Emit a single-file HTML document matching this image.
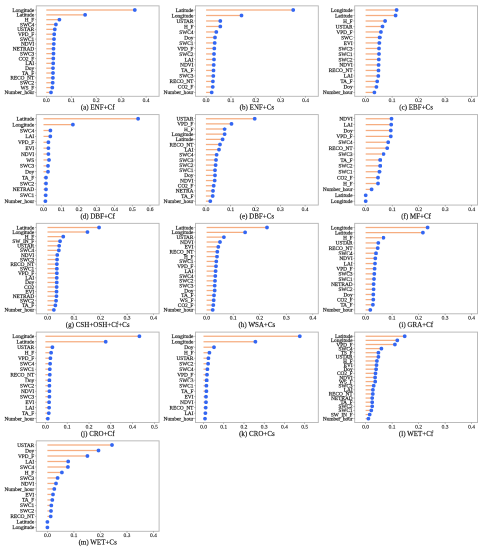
<!DOCTYPE html>
<html><head><meta charset="utf-8"><title>Feature importance lollipop charts</title>
<style>
html,body{margin:0;padding:0;background:#fff;}
body{width:483px;height:550px;overflow:hidden;}
svg{display:block;}
.wrap{width:483px;height:550px;overflow:hidden;position:relative;}
.ss{width:966px;height:1100px;transform:scale(0.5);transform-origin:0 0;will-change:transform;}
.s{stroke:#f6ad80;stroke-width:1.25;}
.d{fill:#3366f2;}
.fr{fill:none;stroke:#b4b4b4;stroke-width:0.9;}
.tk{stroke:#888;stroke-width:0.6;}
text{font-family:"Liberation Serif","Times New Roman",serif;fill:#222;stroke:#222;stroke-width:0.2px;}
.lb{font-size:5.3px;text-anchor:end;}
.tl{font-size:5.5px;text-anchor:middle;stroke-width:0.14px;}
.cp{font-size:7.0px;text-anchor:middle;fill:#111;stroke:#111;stroke-width:0.16px;}
</style></head><body>
<div class="wrap"><div class="ss"><svg width="966" height="1100" viewBox="0 0 483 550">
<rect width="483" height="550" fill="#fff"/>
<g>
<line x1="46.3" y1="9.97" x2="134.8" y2="9.97" class="s"/>
<line x1="46.3" y1="14.82" x2="85.1" y2="14.82" class="s"/>
<line x1="46.3" y1="19.67" x2="59.4" y2="19.67" class="s"/>
<line x1="46.3" y1="24.52" x2="55.9" y2="24.52" class="s"/>
<line x1="46.3" y1="29.37" x2="54.8" y2="29.37" class="s"/>
<line x1="46.3" y1="34.22" x2="54.2" y2="34.22" class="s"/>
<line x1="46.3" y1="39.07" x2="54" y2="39.07" class="s"/>
<line x1="46.3" y1="43.92" x2="53.8" y2="43.92" class="s"/>
<line x1="46.3" y1="48.77" x2="53.5" y2="48.77" class="s"/>
<line x1="46.3" y1="53.63" x2="53.5" y2="53.63" class="s"/>
<line x1="46.3" y1="58.48" x2="53.3" y2="58.48" class="s"/>
<line x1="46.3" y1="63.33" x2="53.2" y2="63.33" class="s"/>
<line x1="46.3" y1="68.18" x2="53" y2="68.18" class="s"/>
<line x1="46.3" y1="73.03" x2="53" y2="73.03" class="s"/>
<line x1="46.3" y1="77.88" x2="52.9" y2="77.88" class="s"/>
<line x1="46.3" y1="82.73" x2="52.7" y2="82.73" class="s"/>
<line x1="46.3" y1="87.58" x2="52.3" y2="87.58" class="s"/>
<line x1="46.3" y1="92.43" x2="51" y2="92.43" class="s"/>
<circle cx="134.8" cy="9.97" r="1.85" class="d"/>
<circle cx="85.1" cy="14.82" r="1.85" class="d"/>
<circle cx="59.4" cy="19.67" r="1.85" class="d"/>
<circle cx="55.9" cy="24.52" r="1.85" class="d"/>
<circle cx="54.8" cy="29.37" r="1.85" class="d"/>
<circle cx="54.2" cy="34.22" r="1.85" class="d"/>
<circle cx="54" cy="39.07" r="1.85" class="d"/>
<circle cx="53.8" cy="43.92" r="1.85" class="d"/>
<circle cx="53.5" cy="48.77" r="1.85" class="d"/>
<circle cx="53.5" cy="53.63" r="1.85" class="d"/>
<circle cx="53.3" cy="58.48" r="1.85" class="d"/>
<circle cx="53.2" cy="63.33" r="1.85" class="d"/>
<circle cx="53" cy="68.18" r="1.85" class="d"/>
<circle cx="53" cy="73.03" r="1.85" class="d"/>
<circle cx="52.9" cy="77.88" r="1.85" class="d"/>
<circle cx="52.7" cy="82.73" r="1.85" class="d"/>
<circle cx="52.3" cy="87.58" r="1.85" class="d"/>
<circle cx="51" cy="92.43" r="1.85" class="d"/>
<rect x="36.3" y="5.85" width="122.8" height="90.45" class="fr"/>
<line x1="35" y1="9.97" x2="36.3" y2="9.97" class="tk"/>
<text x="34.2" y="11.77" class="lb">Longitude</text>
<line x1="35" y1="14.82" x2="36.3" y2="14.82" class="tk"/>
<text x="34.2" y="16.62" class="lb">Latitude</text>
<line x1="35" y1="19.67" x2="36.3" y2="19.67" class="tk"/>
<text x="34.2" y="21.47" class="lb">H_F</text>
<line x1="35" y1="24.52" x2="36.3" y2="24.52" class="tk"/>
<text x="34.2" y="26.32" class="lb">SWC4</text>
<line x1="35" y1="29.37" x2="36.3" y2="29.37" class="tk"/>
<text x="34.2" y="31.17" class="lb">USTAR</text>
<line x1="35" y1="34.22" x2="36.3" y2="34.22" class="tk"/>
<text x="34.2" y="36.02" class="lb">VPD_F</text>
<line x1="35" y1="39.07" x2="36.3" y2="39.07" class="tk"/>
<text x="34.2" y="40.87" class="lb">SWC1</text>
<line x1="35" y1="43.92" x2="36.3" y2="43.92" class="tk"/>
<text x="34.2" y="45.72" class="lb">NDVI</text>
<line x1="35" y1="48.77" x2="36.3" y2="48.77" class="tk"/>
<text x="34.2" y="50.57" class="lb">NETRAD</text>
<line x1="35" y1="53.63" x2="36.3" y2="53.63" class="tk"/>
<text x="34.2" y="55.43" class="lb">SWC3</text>
<line x1="35" y1="58.48" x2="36.3" y2="58.48" class="tk"/>
<text x="34.2" y="60.28" class="lb">CO2_F</text>
<line x1="35" y1="63.33" x2="36.3" y2="63.33" class="tk"/>
<text x="34.2" y="65.13" class="lb">LAI</text>
<line x1="35" y1="68.18" x2="36.3" y2="68.18" class="tk"/>
<text x="34.2" y="69.98" class="lb">Doy</text>
<line x1="35" y1="73.03" x2="36.3" y2="73.03" class="tk"/>
<text x="34.2" y="74.83" class="lb">TA_F</text>
<line x1="35" y1="77.88" x2="36.3" y2="77.88" class="tk"/>
<text x="34.2" y="79.68" class="lb">RECO_NT</text>
<line x1="35" y1="82.73" x2="36.3" y2="82.73" class="tk"/>
<text x="34.2" y="84.53" class="lb">SWC2</text>
<line x1="35" y1="87.58" x2="36.3" y2="87.58" class="tk"/>
<text x="34.2" y="89.38" class="lb">WS_F</text>
<line x1="35" y1="92.43" x2="36.3" y2="92.43" class="tk"/>
<text x="34.2" y="94.23" class="lb">Number_hour</text>
<line x1="46.3" y1="96.3" x2="46.3" y2="97.6" class="tk"/>
<text x="46.3" y="102.1" class="tl">0.0</text>
<line x1="71.25" y1="96.3" x2="71.25" y2="97.6" class="tk"/>
<text x="71.25" y="102.1" class="tl">0.1</text>
<line x1="96.2" y1="96.3" x2="96.2" y2="97.6" class="tk"/>
<text x="96.2" y="102.1" class="tl">0.2</text>
<line x1="121.15" y1="96.3" x2="121.15" y2="97.6" class="tk"/>
<text x="121.15" y="102.1" class="tl">0.3</text>
<line x1="146.1" y1="96.3" x2="146.1" y2="97.6" class="tk"/>
<text x="146.1" y="102.1" class="tl">0.4</text>
<text x="97.7" y="109.5" class="cp">(a) ENF+Cf</text>
</g>
<g>
<line x1="206.1" y1="9.97" x2="293.2" y2="9.97" class="s"/>
<line x1="206.1" y1="15.47" x2="241.5" y2="15.47" class="s"/>
<line x1="206.1" y1="20.97" x2="220.3" y2="20.97" class="s"/>
<line x1="206.1" y1="26.46" x2="220.3" y2="26.46" class="s"/>
<line x1="206.1" y1="31.96" x2="216.3" y2="31.96" class="s"/>
<line x1="206.1" y1="37.46" x2="215" y2="37.46" class="s"/>
<line x1="206.1" y1="42.95" x2="214.7" y2="42.95" class="s"/>
<line x1="206.1" y1="48.45" x2="214.3" y2="48.45" class="s"/>
<line x1="206.1" y1="53.95" x2="214" y2="53.95" class="s"/>
<line x1="206.1" y1="59.45" x2="214" y2="59.45" class="s"/>
<line x1="206.1" y1="64.94" x2="213.7" y2="64.94" class="s"/>
<line x1="206.1" y1="70.44" x2="213.5" y2="70.44" class="s"/>
<line x1="206.1" y1="75.94" x2="213.3" y2="75.94" class="s"/>
<line x1="206.1" y1="81.43" x2="212.9" y2="81.43" class="s"/>
<line x1="206.1" y1="86.93" x2="212.75" y2="86.93" class="s"/>
<line x1="206.1" y1="92.43" x2="211.7" y2="92.43" class="s"/>
<circle cx="293.2" cy="9.97" r="1.85" class="d"/>
<circle cx="241.5" cy="15.47" r="1.85" class="d"/>
<circle cx="220.3" cy="20.97" r="1.85" class="d"/>
<circle cx="220.3" cy="26.46" r="1.85" class="d"/>
<circle cx="216.3" cy="31.96" r="1.85" class="d"/>
<circle cx="215" cy="37.46" r="1.85" class="d"/>
<circle cx="214.7" cy="42.95" r="1.85" class="d"/>
<circle cx="214.3" cy="48.45" r="1.85" class="d"/>
<circle cx="214" cy="53.95" r="1.85" class="d"/>
<circle cx="214" cy="59.45" r="1.85" class="d"/>
<circle cx="213.7" cy="64.94" r="1.85" class="d"/>
<circle cx="213.5" cy="70.44" r="1.85" class="d"/>
<circle cx="213.3" cy="75.94" r="1.85" class="d"/>
<circle cx="212.9" cy="81.43" r="1.85" class="d"/>
<circle cx="212.75" cy="86.93" r="1.85" class="d"/>
<circle cx="211.7" cy="92.43" r="1.85" class="d"/>
<rect x="195.5" y="5.85" width="122.8" height="90.45" class="fr"/>
<line x1="194.2" y1="9.97" x2="195.5" y2="9.97" class="tk"/>
<text x="193.4" y="11.77" class="lb">Latitude</text>
<line x1="194.2" y1="15.47" x2="195.5" y2="15.47" class="tk"/>
<text x="193.4" y="17.27" class="lb">Longitude</text>
<line x1="194.2" y1="20.97" x2="195.5" y2="20.97" class="tk"/>
<text x="193.4" y="22.77" class="lb">USTAR</text>
<line x1="194.2" y1="26.46" x2="195.5" y2="26.46" class="tk"/>
<text x="193.4" y="28.26" class="lb">H_F</text>
<line x1="194.2" y1="31.96" x2="195.5" y2="31.96" class="tk"/>
<text x="193.4" y="33.76" class="lb">SWC4</text>
<line x1="194.2" y1="37.46" x2="195.5" y2="37.46" class="tk"/>
<text x="193.4" y="39.26" class="lb">Doy</text>
<line x1="194.2" y1="42.95" x2="195.5" y2="42.95" class="tk"/>
<text x="193.4" y="44.75" class="lb">SWC1</text>
<line x1="194.2" y1="48.45" x2="195.5" y2="48.45" class="tk"/>
<text x="193.4" y="50.25" class="lb">VPD_F</text>
<line x1="194.2" y1="53.95" x2="195.5" y2="53.95" class="tk"/>
<text x="193.4" y="55.75" class="lb">SWC2</text>
<line x1="194.2" y1="59.45" x2="195.5" y2="59.45" class="tk"/>
<text x="193.4" y="61.25" class="lb">LAI</text>
<line x1="194.2" y1="64.94" x2="195.5" y2="64.94" class="tk"/>
<text x="193.4" y="66.74" class="lb">NDVI</text>
<line x1="194.2" y1="70.44" x2="195.5" y2="70.44" class="tk"/>
<text x="193.4" y="72.24" class="lb">TA_F</text>
<line x1="194.2" y1="75.94" x2="195.5" y2="75.94" class="tk"/>
<text x="193.4" y="77.74" class="lb">SWC3</text>
<line x1="194.2" y1="81.43" x2="195.5" y2="81.43" class="tk"/>
<text x="193.4" y="83.23" class="lb">RECO_NT</text>
<line x1="194.2" y1="86.93" x2="195.5" y2="86.93" class="tk"/>
<text x="193.4" y="88.73" class="lb">CO2_F</text>
<line x1="194.2" y1="92.43" x2="195.5" y2="92.43" class="tk"/>
<text x="193.4" y="94.23" class="lb">Number_hour</text>
<line x1="206.1" y1="96.3" x2="206.1" y2="97.6" class="tk"/>
<text x="206.1" y="102.1" class="tl">0.0</text>
<line x1="230.95" y1="96.3" x2="230.95" y2="97.6" class="tk"/>
<text x="230.95" y="102.1" class="tl">0.1</text>
<line x1="255.8" y1="96.3" x2="255.8" y2="97.6" class="tk"/>
<text x="255.8" y="102.1" class="tl">0.2</text>
<line x1="280.65" y1="96.3" x2="280.65" y2="97.6" class="tk"/>
<text x="280.65" y="102.1" class="tl">0.3</text>
<line x1="305.5" y1="96.3" x2="305.5" y2="97.6" class="tk"/>
<text x="305.5" y="102.1" class="tl">0.4</text>
<text x="256.9" y="109.5" class="cp">(b) ENF+Cs</text>
</g>
<g>
<line x1="365.6" y1="9.97" x2="396.6" y2="9.97" class="s"/>
<line x1="365.6" y1="15.47" x2="395.6" y2="15.47" class="s"/>
<line x1="365.6" y1="20.97" x2="385.1" y2="20.97" class="s"/>
<line x1="365.6" y1="26.46" x2="382.5" y2="26.46" class="s"/>
<line x1="365.6" y1="31.96" x2="380.9" y2="31.96" class="s"/>
<line x1="365.6" y1="37.46" x2="379.6" y2="37.46" class="s"/>
<line x1="365.6" y1="42.95" x2="379.3" y2="42.95" class="s"/>
<line x1="365.6" y1="48.45" x2="379" y2="48.45" class="s"/>
<line x1="365.6" y1="53.95" x2="379" y2="53.95" class="s"/>
<line x1="365.6" y1="59.45" x2="378.8" y2="59.45" class="s"/>
<line x1="365.6" y1="64.94" x2="378.6" y2="64.94" class="s"/>
<line x1="365.6" y1="70.44" x2="378.5" y2="70.44" class="s"/>
<line x1="365.6" y1="75.94" x2="378.3" y2="75.94" class="s"/>
<line x1="365.6" y1="81.43" x2="377.2" y2="81.43" class="s"/>
<line x1="365.6" y1="86.93" x2="376.4" y2="86.93" class="s"/>
<line x1="365.6" y1="92.43" x2="374.4" y2="92.43" class="s"/>
<circle cx="396.6" cy="9.97" r="1.85" class="d"/>
<circle cx="395.6" cy="15.47" r="1.85" class="d"/>
<circle cx="385.1" cy="20.97" r="1.85" class="d"/>
<circle cx="382.5" cy="26.46" r="1.85" class="d"/>
<circle cx="380.9" cy="31.96" r="1.85" class="d"/>
<circle cx="379.6" cy="37.46" r="1.85" class="d"/>
<circle cx="379.3" cy="42.95" r="1.85" class="d"/>
<circle cx="379" cy="48.45" r="1.85" class="d"/>
<circle cx="379" cy="53.95" r="1.85" class="d"/>
<circle cx="378.8" cy="59.45" r="1.85" class="d"/>
<circle cx="378.6" cy="64.94" r="1.85" class="d"/>
<circle cx="378.5" cy="70.44" r="1.85" class="d"/>
<circle cx="378.3" cy="75.94" r="1.85" class="d"/>
<circle cx="377.2" cy="81.43" r="1.85" class="d"/>
<circle cx="376.4" cy="86.93" r="1.85" class="d"/>
<circle cx="374.4" cy="92.43" r="1.85" class="d"/>
<rect x="354.7" y="5.85" width="122.8" height="90.45" class="fr"/>
<line x1="353.4" y1="9.97" x2="354.7" y2="9.97" class="tk"/>
<text x="352.6" y="11.77" class="lb">Longitude</text>
<line x1="353.4" y1="15.47" x2="354.7" y2="15.47" class="tk"/>
<text x="352.6" y="17.27" class="lb">Latitude</text>
<line x1="353.4" y1="20.97" x2="354.7" y2="20.97" class="tk"/>
<text x="352.6" y="22.77" class="lb">H_F</text>
<line x1="353.4" y1="26.46" x2="354.7" y2="26.46" class="tk"/>
<text x="352.6" y="28.26" class="lb">USTAR</text>
<line x1="353.4" y1="31.96" x2="354.7" y2="31.96" class="tk"/>
<text x="352.6" y="33.76" class="lb">VPD_F</text>
<line x1="353.4" y1="37.46" x2="354.7" y2="37.46" class="tk"/>
<text x="352.6" y="39.26" class="lb">SWC</text>
<line x1="353.4" y1="42.95" x2="354.7" y2="42.95" class="tk"/>
<text x="352.6" y="44.75" class="lb">EVI</text>
<line x1="353.4" y1="48.45" x2="354.7" y2="48.45" class="tk"/>
<text x="352.6" y="50.25" class="lb">SWC3</text>
<line x1="353.4" y1="53.95" x2="354.7" y2="53.95" class="tk"/>
<text x="352.6" y="55.75" class="lb">SWC1</text>
<line x1="353.4" y1="59.45" x2="354.7" y2="59.45" class="tk"/>
<text x="352.6" y="61.25" class="lb">SWC2</text>
<line x1="353.4" y1="64.94" x2="354.7" y2="64.94" class="tk"/>
<text x="352.6" y="66.74" class="lb">NDVI</text>
<line x1="353.4" y1="70.44" x2="354.7" y2="70.44" class="tk"/>
<text x="352.6" y="72.24" class="lb">RECO_NT</text>
<line x1="353.4" y1="75.94" x2="354.7" y2="75.94" class="tk"/>
<text x="352.6" y="77.74" class="lb">LAI</text>
<line x1="353.4" y1="81.43" x2="354.7" y2="81.43" class="tk"/>
<text x="352.6" y="83.23" class="lb">TA_F</text>
<line x1="353.4" y1="86.93" x2="354.7" y2="86.93" class="tk"/>
<text x="352.6" y="88.73" class="lb">Doy</text>
<line x1="353.4" y1="92.43" x2="354.7" y2="92.43" class="tk"/>
<text x="352.6" y="94.23" class="lb">Number_hour</text>
<line x1="365.6" y1="96.3" x2="365.6" y2="97.6" class="tk"/>
<text x="365.6" y="102.1" class="tl">0.0</text>
<line x1="392.1" y1="96.3" x2="392.1" y2="97.6" class="tk"/>
<text x="392.1" y="102.1" class="tl">0.1</text>
<line x1="418.6" y1="96.3" x2="418.6" y2="97.6" class="tk"/>
<text x="418.6" y="102.1" class="tl">0.2</text>
<line x1="445.1" y1="96.3" x2="445.1" y2="97.6" class="tk"/>
<text x="445.1" y="102.1" class="tl">0.3</text>
<line x1="471.6" y1="96.3" x2="471.6" y2="97.6" class="tk"/>
<text x="471.6" y="102.1" class="tl">0.4</text>
<text x="416.1" y="109.5" class="cp">(c) EBF+Cs</text>
</g>
<g>
<line x1="43.5" y1="118.72" x2="138.1" y2="118.72" class="s"/>
<line x1="43.5" y1="124.61" x2="72.9" y2="124.61" class="s"/>
<line x1="43.5" y1="130.5" x2="50.4" y2="130.5" class="s"/>
<line x1="43.5" y1="136.39" x2="50.3" y2="136.39" class="s"/>
<line x1="43.5" y1="142.28" x2="48.4" y2="142.28" class="s"/>
<line x1="43.5" y1="148.17" x2="48.4" y2="148.17" class="s"/>
<line x1="43.5" y1="154.06" x2="48.4" y2="154.06" class="s"/>
<line x1="43.5" y1="159.95" x2="49" y2="159.95" class="s"/>
<line x1="43.5" y1="165.84" x2="48" y2="165.84" class="s"/>
<line x1="43.5" y1="171.73" x2="48" y2="171.73" class="s"/>
<line x1="43.5" y1="177.62" x2="46" y2="177.62" class="s"/>
<line x1="43.5" y1="183.51" x2="46" y2="183.51" class="s"/>
<line x1="43.5" y1="189.4" x2="46" y2="189.4" class="s"/>
<line x1="43.5" y1="195.29" x2="45.7" y2="195.29" class="s"/>
<line x1="43.5" y1="201.18" x2="45.4" y2="201.18" class="s"/>
<circle cx="138.1" cy="118.72" r="1.85" class="d"/>
<circle cx="72.9" cy="124.61" r="1.85" class="d"/>
<circle cx="50.4" cy="130.5" r="1.85" class="d"/>
<circle cx="50.3" cy="136.39" r="1.85" class="d"/>
<circle cx="48.4" cy="142.28" r="1.85" class="d"/>
<circle cx="48.4" cy="148.17" r="1.85" class="d"/>
<circle cx="48.4" cy="154.06" r="1.85" class="d"/>
<circle cx="49" cy="159.95" r="1.85" class="d"/>
<circle cx="48" cy="165.84" r="1.85" class="d"/>
<circle cx="48" cy="171.73" r="1.85" class="d"/>
<circle cx="46" cy="177.62" r="1.85" class="d"/>
<circle cx="46" cy="183.51" r="1.85" class="d"/>
<circle cx="46" cy="189.4" r="1.85" class="d"/>
<circle cx="45.7" cy="195.29" r="1.85" class="d"/>
<circle cx="45.4" cy="201.18" r="1.85" class="d"/>
<rect x="36.3" y="114.6" width="122.8" height="90.45" class="fr"/>
<line x1="35" y1="118.72" x2="36.3" y2="118.72" class="tk"/>
<text x="34.2" y="120.52" class="lb">Latitude</text>
<line x1="35" y1="124.61" x2="36.3" y2="124.61" class="tk"/>
<text x="34.2" y="126.41" class="lb">Longitude</text>
<line x1="35" y1="130.5" x2="36.3" y2="130.5" class="tk"/>
<text x="34.2" y="132.3" class="lb">SWC4</text>
<line x1="35" y1="136.39" x2="36.3" y2="136.39" class="tk"/>
<text x="34.2" y="138.19" class="lb">LAI</text>
<line x1="35" y1="142.28" x2="36.3" y2="142.28" class="tk"/>
<text x="34.2" y="144.08" class="lb">VPD_F</text>
<line x1="35" y1="148.17" x2="36.3" y2="148.17" class="tk"/>
<text x="34.2" y="149.97" class="lb">EVI</text>
<line x1="35" y1="154.06" x2="36.3" y2="154.06" class="tk"/>
<text x="34.2" y="155.86" class="lb">NDVI</text>
<line x1="35" y1="159.95" x2="36.3" y2="159.95" class="tk"/>
<text x="34.2" y="161.75" class="lb">WS</text>
<line x1="35" y1="165.84" x2="36.3" y2="165.84" class="tk"/>
<text x="34.2" y="167.64" class="lb">SWC3</text>
<line x1="35" y1="171.73" x2="36.3" y2="171.73" class="tk"/>
<text x="34.2" y="173.53" class="lb">Doy</text>
<line x1="35" y1="177.62" x2="36.3" y2="177.62" class="tk"/>
<text x="34.2" y="179.42" class="lb">TA_F</text>
<line x1="35" y1="183.51" x2="36.3" y2="183.51" class="tk"/>
<text x="34.2" y="185.31" class="lb">SWC2</text>
<line x1="35" y1="189.4" x2="36.3" y2="189.4" class="tk"/>
<text x="34.2" y="191.2" class="lb">NETRAD</text>
<line x1="35" y1="195.29" x2="36.3" y2="195.29" class="tk"/>
<text x="34.2" y="197.09" class="lb">SWC1</text>
<line x1="35" y1="201.18" x2="36.3" y2="201.18" class="tk"/>
<text x="34.2" y="202.98" class="lb">Number_hour</text>
<line x1="43.5" y1="205.05" x2="43.5" y2="206.35" class="tk"/>
<text x="43.5" y="210.85" class="tl">0.0</text>
<line x1="61.25" y1="205.05" x2="61.25" y2="206.35" class="tk"/>
<text x="61.25" y="210.85" class="tl">0.1</text>
<line x1="79" y1="205.05" x2="79" y2="206.35" class="tk"/>
<text x="79" y="210.85" class="tl">0.2</text>
<line x1="96.75" y1="205.05" x2="96.75" y2="206.35" class="tk"/>
<text x="96.75" y="210.85" class="tl">0.3</text>
<line x1="114.5" y1="205.05" x2="114.5" y2="206.35" class="tk"/>
<text x="114.5" y="210.85" class="tl">0.4</text>
<line x1="132.25" y1="205.05" x2="132.25" y2="206.35" class="tk"/>
<text x="132.25" y="210.85" class="tl">0.5</text>
<line x1="150" y1="205.05" x2="150" y2="206.35" class="tk"/>
<text x="150" y="210.85" class="tl">0.6</text>
<text x="97.7" y="218.25" class="cp">(d) DBF+Cf</text>
</g>
<g>
<line x1="205.9" y1="118.72" x2="254.7" y2="118.72" class="s"/>
<line x1="205.9" y1="123.88" x2="231.5" y2="123.88" class="s"/>
<line x1="205.9" y1="129.03" x2="224.6" y2="129.03" class="s"/>
<line x1="205.9" y1="134.18" x2="224.6" y2="134.18" class="s"/>
<line x1="205.9" y1="139.34" x2="222.6" y2="139.34" class="s"/>
<line x1="205.9" y1="144.49" x2="220" y2="144.49" class="s"/>
<line x1="205.9" y1="149.64" x2="219" y2="149.64" class="s"/>
<line x1="205.9" y1="154.8" x2="216.6" y2="154.8" class="s"/>
<line x1="205.9" y1="159.95" x2="216" y2="159.95" class="s"/>
<line x1="205.9" y1="165.1" x2="215.6" y2="165.1" class="s"/>
<line x1="205.9" y1="170.26" x2="215" y2="170.26" class="s"/>
<line x1="205.9" y1="175.41" x2="215" y2="175.41" class="s"/>
<line x1="205.9" y1="180.56" x2="214.7" y2="180.56" class="s"/>
<line x1="205.9" y1="185.72" x2="213.7" y2="185.72" class="s"/>
<line x1="205.9" y1="190.87" x2="213" y2="190.87" class="s"/>
<line x1="205.9" y1="196.02" x2="212.7" y2="196.02" class="s"/>
<line x1="205.9" y1="201.18" x2="210.3" y2="201.18" class="s"/>
<circle cx="254.7" cy="118.72" r="1.85" class="d"/>
<circle cx="231.5" cy="123.88" r="1.85" class="d"/>
<circle cx="224.6" cy="129.03" r="1.85" class="d"/>
<circle cx="224.6" cy="134.18" r="1.85" class="d"/>
<circle cx="222.6" cy="139.34" r="1.85" class="d"/>
<circle cx="220" cy="144.49" r="1.85" class="d"/>
<circle cx="219" cy="149.64" r="1.85" class="d"/>
<circle cx="216.6" cy="154.8" r="1.85" class="d"/>
<circle cx="216" cy="159.95" r="1.85" class="d"/>
<circle cx="215.6" cy="165.1" r="1.85" class="d"/>
<circle cx="215" cy="170.26" r="1.85" class="d"/>
<circle cx="215" cy="175.41" r="1.85" class="d"/>
<circle cx="214.7" cy="180.56" r="1.85" class="d"/>
<circle cx="213.7" cy="185.72" r="1.85" class="d"/>
<circle cx="213" cy="190.87" r="1.85" class="d"/>
<circle cx="212.7" cy="196.02" r="1.85" class="d"/>
<circle cx="210.3" cy="201.18" r="1.85" class="d"/>
<rect x="195.5" y="114.6" width="122.8" height="90.45" class="fr"/>
<line x1="194.2" y1="118.72" x2="195.5" y2="118.72" class="tk"/>
<text x="193.4" y="120.52" class="lb">USTAR</text>
<line x1="194.2" y1="123.88" x2="195.5" y2="123.88" class="tk"/>
<text x="193.4" y="125.68" class="lb">VPD_F</text>
<line x1="194.2" y1="129.03" x2="195.5" y2="129.03" class="tk"/>
<text x="193.4" y="130.83" class="lb">H_F</text>
<line x1="194.2" y1="134.18" x2="195.5" y2="134.18" class="tk"/>
<text x="193.4" y="135.98" class="lb">Longitude</text>
<line x1="194.2" y1="139.34" x2="195.5" y2="139.34" class="tk"/>
<text x="193.4" y="141.14" class="lb">Latitude</text>
<line x1="194.2" y1="144.49" x2="195.5" y2="144.49" class="tk"/>
<text x="193.4" y="146.29" class="lb">RECO_NT</text>
<line x1="194.2" y1="149.64" x2="195.5" y2="149.64" class="tk"/>
<text x="193.4" y="151.44" class="lb">LAI</text>
<line x1="194.2" y1="154.8" x2="195.5" y2="154.8" class="tk"/>
<text x="193.4" y="156.6" class="lb">SWC4</text>
<line x1="194.2" y1="159.95" x2="195.5" y2="159.95" class="tk"/>
<text x="193.4" y="161.75" class="lb">SWC3</text>
<line x1="194.2" y1="165.1" x2="195.5" y2="165.1" class="tk"/>
<text x="193.4" y="166.9" class="lb">SWC2</text>
<line x1="194.2" y1="170.26" x2="195.5" y2="170.26" class="tk"/>
<text x="193.4" y="172.06" class="lb">SWC1</text>
<line x1="194.2" y1="175.41" x2="195.5" y2="175.41" class="tk"/>
<text x="193.4" y="177.21" class="lb">Doy</text>
<line x1="194.2" y1="180.56" x2="195.5" y2="180.56" class="tk"/>
<text x="193.4" y="182.36" class="lb">NDVI</text>
<line x1="194.2" y1="185.72" x2="195.5" y2="185.72" class="tk"/>
<text x="193.4" y="187.52" class="lb">CO2_F</text>
<line x1="194.2" y1="190.87" x2="195.5" y2="190.87" class="tk"/>
<text x="193.4" y="192.67" class="lb">NETRA</text>
<line x1="194.2" y1="196.02" x2="195.5" y2="196.02" class="tk"/>
<text x="193.4" y="197.82" class="lb">TA_F</text>
<line x1="194.2" y1="201.18" x2="195.5" y2="201.18" class="tk"/>
<text x="193.4" y="202.98" class="lb">Number_hour</text>
<line x1="205.9" y1="205.05" x2="205.9" y2="206.35" class="tk"/>
<text x="205.9" y="210.85" class="tl">0.0</text>
<line x1="230.7" y1="205.05" x2="230.7" y2="206.35" class="tk"/>
<text x="230.7" y="210.85" class="tl">0.1</text>
<line x1="255.5" y1="205.05" x2="255.5" y2="206.35" class="tk"/>
<text x="255.5" y="210.85" class="tl">0.2</text>
<line x1="280.3" y1="205.05" x2="280.3" y2="206.35" class="tk"/>
<text x="280.3" y="210.85" class="tl">0.3</text>
<line x1="305.1" y1="205.05" x2="305.1" y2="206.35" class="tk"/>
<text x="305.1" y="210.85" class="tl">0.4</text>
<text x="256.9" y="218.25" class="cp">(e) DBF+Cs</text>
</g>
<g>
<line x1="365.7" y1="118.72" x2="391.5" y2="118.72" class="s"/>
<line x1="365.7" y1="124.61" x2="391.2" y2="124.61" class="s"/>
<line x1="365.7" y1="130.5" x2="390.8" y2="130.5" class="s"/>
<line x1="365.7" y1="136.39" x2="390.8" y2="136.39" class="s"/>
<line x1="365.7" y1="142.28" x2="388.2" y2="142.28" class="s"/>
<line x1="365.7" y1="148.17" x2="387.2" y2="148.17" class="s"/>
<line x1="365.7" y1="154.06" x2="383.5" y2="154.06" class="s"/>
<line x1="365.7" y1="159.95" x2="380.1" y2="159.95" class="s"/>
<line x1="365.7" y1="165.84" x2="380.1" y2="165.84" class="s"/>
<line x1="365.7" y1="171.73" x2="379.4" y2="171.73" class="s"/>
<line x1="365.7" y1="177.62" x2="378" y2="177.62" class="s"/>
<line x1="365.7" y1="183.51" x2="378" y2="183.51" class="s"/>
<line x1="365.7" y1="189.4" x2="371.6" y2="189.4" class="s"/>
<line x1="365.7" y1="195.29" x2="365.7" y2="195.29" class="s"/>
<line x1="365.7" y1="201.18" x2="365.7" y2="201.18" class="s"/>
<circle cx="391.5" cy="118.72" r="1.85" class="d"/>
<circle cx="391.2" cy="124.61" r="1.85" class="d"/>
<circle cx="390.8" cy="130.5" r="1.85" class="d"/>
<circle cx="390.8" cy="136.39" r="1.85" class="d"/>
<circle cx="388.2" cy="142.28" r="1.85" class="d"/>
<circle cx="387.2" cy="148.17" r="1.85" class="d"/>
<circle cx="383.5" cy="154.06" r="1.85" class="d"/>
<circle cx="380.1" cy="159.95" r="1.85" class="d"/>
<circle cx="380.1" cy="165.84" r="1.85" class="d"/>
<circle cx="379.4" cy="171.73" r="1.85" class="d"/>
<circle cx="378" cy="177.62" r="1.85" class="d"/>
<circle cx="378" cy="183.51" r="1.85" class="d"/>
<circle cx="371.6" cy="189.4" r="1.85" class="d"/>
<circle cx="365.7" cy="195.29" r="1.85" class="d"/>
<circle cx="365.7" cy="201.18" r="1.85" class="d"/>
<rect x="354.7" y="114.6" width="122.8" height="90.45" class="fr"/>
<line x1="353.4" y1="118.72" x2="354.7" y2="118.72" class="tk"/>
<text x="352.6" y="120.52" class="lb">NDVI</text>
<line x1="353.4" y1="124.61" x2="354.7" y2="124.61" class="tk"/>
<text x="352.6" y="126.41" class="lb">LAI</text>
<line x1="353.4" y1="130.5" x2="354.7" y2="130.5" class="tk"/>
<text x="352.6" y="132.3" class="lb">Doy</text>
<line x1="353.4" y1="136.39" x2="354.7" y2="136.39" class="tk"/>
<text x="352.6" y="138.19" class="lb">VPD_F</text>
<line x1="353.4" y1="142.28" x2="354.7" y2="142.28" class="tk"/>
<text x="352.6" y="144.08" class="lb">SWC4</text>
<line x1="353.4" y1="148.17" x2="354.7" y2="148.17" class="tk"/>
<text x="352.6" y="149.97" class="lb">RECO_NT</text>
<line x1="353.4" y1="154.06" x2="354.7" y2="154.06" class="tk"/>
<text x="352.6" y="155.86" class="lb">SWC3</text>
<line x1="353.4" y1="159.95" x2="354.7" y2="159.95" class="tk"/>
<text x="352.6" y="161.75" class="lb">TA_F</text>
<line x1="353.4" y1="165.84" x2="354.7" y2="165.84" class="tk"/>
<text x="352.6" y="167.64" class="lb">SWC2</text>
<line x1="353.4" y1="171.73" x2="354.7" y2="171.73" class="tk"/>
<text x="352.6" y="173.53" class="lb">SWC1</text>
<line x1="353.4" y1="177.62" x2="354.7" y2="177.62" class="tk"/>
<text x="352.6" y="179.42" class="lb">CO2_F</text>
<line x1="353.4" y1="183.51" x2="354.7" y2="183.51" class="tk"/>
<text x="352.6" y="185.31" class="lb">H_F</text>
<line x1="353.4" y1="189.4" x2="354.7" y2="189.4" class="tk"/>
<text x="352.6" y="191.2" class="lb">Number_hour</text>
<line x1="353.4" y1="195.29" x2="354.7" y2="195.29" class="tk"/>
<text x="352.6" y="197.09" class="lb">Latitude</text>
<line x1="353.4" y1="201.18" x2="354.7" y2="201.18" class="tk"/>
<text x="352.6" y="202.98" class="lb">Longitude</text>
<line x1="365.7" y1="205.05" x2="365.7" y2="206.35" class="tk"/>
<text x="365.7" y="210.85" class="tl">0.0</text>
<line x1="392.2" y1="205.05" x2="392.2" y2="206.35" class="tk"/>
<text x="392.2" y="210.85" class="tl">0.1</text>
<line x1="418.7" y1="205.05" x2="418.7" y2="206.35" class="tk"/>
<text x="418.7" y="210.85" class="tl">0.2</text>
<line x1="445.2" y1="205.05" x2="445.2" y2="206.35" class="tk"/>
<text x="445.2" y="210.85" class="tl">0.3</text>
<line x1="471.7" y1="205.05" x2="471.7" y2="206.35" class="tk"/>
<text x="471.7" y="210.85" class="tl">0.4</text>
<text x="416.1" y="218.25" class="cp">(f) MF+Cf</text>
</g>
<g>
<line x1="47.5" y1="227.47" x2="99.05" y2="227.47" class="s"/>
<line x1="47.5" y1="232.05" x2="87.45" y2="232.05" class="s"/>
<line x1="47.5" y1="236.63" x2="63.25" y2="236.63" class="s"/>
<line x1="47.5" y1="241.22" x2="60.05" y2="241.22" class="s"/>
<line x1="47.5" y1="245.8" x2="59.15" y2="245.8" class="s"/>
<line x1="47.5" y1="250.38" x2="58.85" y2="250.38" class="s"/>
<line x1="47.5" y1="254.96" x2="57.25" y2="254.96" class="s"/>
<line x1="47.5" y1="259.54" x2="57.05" y2="259.54" class="s"/>
<line x1="47.5" y1="264.12" x2="56.85" y2="264.12" class="s"/>
<line x1="47.5" y1="268.7" x2="56.85" y2="268.7" class="s"/>
<line x1="47.5" y1="273.28" x2="56.85" y2="273.28" class="s"/>
<line x1="47.5" y1="277.86" x2="56.75" y2="277.86" class="s"/>
<line x1="47.5" y1="282.44" x2="56.75" y2="282.44" class="s"/>
<line x1="47.5" y1="287.02" x2="56.65" y2="287.02" class="s"/>
<line x1="47.5" y1="291.6" x2="56.55" y2="291.6" class="s"/>
<line x1="47.5" y1="296.18" x2="56.45" y2="296.18" class="s"/>
<line x1="47.5" y1="300.77" x2="56.05" y2="300.77" class="s"/>
<line x1="47.5" y1="305.35" x2="55.35" y2="305.35" class="s"/>
<line x1="47.5" y1="309.93" x2="53.85" y2="309.93" class="s"/>
<circle cx="99.05" cy="227.47" r="1.85" class="d"/>
<circle cx="87.45" cy="232.05" r="1.85" class="d"/>
<circle cx="63.25" cy="236.63" r="1.85" class="d"/>
<circle cx="60.05" cy="241.22" r="1.85" class="d"/>
<circle cx="59.15" cy="245.8" r="1.85" class="d"/>
<circle cx="58.85" cy="250.38" r="1.85" class="d"/>
<circle cx="57.25" cy="254.96" r="1.85" class="d"/>
<circle cx="57.05" cy="259.54" r="1.85" class="d"/>
<circle cx="56.85" cy="264.12" r="1.85" class="d"/>
<circle cx="56.85" cy="268.7" r="1.85" class="d"/>
<circle cx="56.85" cy="273.28" r="1.85" class="d"/>
<circle cx="56.75" cy="277.86" r="1.85" class="d"/>
<circle cx="56.75" cy="282.44" r="1.85" class="d"/>
<circle cx="56.65" cy="287.02" r="1.85" class="d"/>
<circle cx="56.55" cy="291.6" r="1.85" class="d"/>
<circle cx="56.45" cy="296.18" r="1.85" class="d"/>
<circle cx="56.05" cy="300.77" r="1.85" class="d"/>
<circle cx="55.35" cy="305.35" r="1.85" class="d"/>
<circle cx="53.85" cy="309.93" r="1.85" class="d"/>
<rect x="36.3" y="223.35" width="122.8" height="90.45" class="fr"/>
<line x1="35" y1="227.47" x2="36.3" y2="227.47" class="tk"/>
<text x="34.2" y="229.27" class="lb">Latitude</text>
<line x1="35" y1="232.05" x2="36.3" y2="232.05" class="tk"/>
<text x="34.2" y="233.85" class="lb">Longitude</text>
<line x1="35" y1="236.63" x2="36.3" y2="236.63" class="tk"/>
<text x="34.2" y="238.43" class="lb">H_F</text>
<line x1="35" y1="241.22" x2="36.3" y2="241.22" class="tk"/>
<text x="34.2" y="243.02" class="lb">SW_IN_F</text>
<line x1="35" y1="245.8" x2="36.3" y2="245.8" class="tk"/>
<text x="34.2" y="247.6" class="lb">USTAR</text>
<line x1="35" y1="250.38" x2="36.3" y2="250.38" class="tk"/>
<text x="34.2" y="252.18" class="lb">SWC4</text>
<line x1="35" y1="254.96" x2="36.3" y2="254.96" class="tk"/>
<text x="34.2" y="256.76" class="lb">NDVI</text>
<line x1="35" y1="259.54" x2="36.3" y2="259.54" class="tk"/>
<text x="34.2" y="261.34" class="lb">SWC3</text>
<line x1="35" y1="264.12" x2="36.3" y2="264.12" class="tk"/>
<text x="34.2" y="265.92" class="lb">RECO_NT</text>
<line x1="35" y1="268.7" x2="36.3" y2="268.7" class="tk"/>
<text x="34.2" y="270.5" class="lb">SWC1</text>
<line x1="35" y1="273.28" x2="36.3" y2="273.28" class="tk"/>
<text x="34.2" y="275.08" class="lb">VPD_F</text>
<line x1="35" y1="277.86" x2="36.3" y2="277.86" class="tk"/>
<text x="34.2" y="279.66" class="lb">LAI</text>
<line x1="35" y1="282.44" x2="36.3" y2="282.44" class="tk"/>
<text x="34.2" y="284.24" class="lb">Doy</text>
<line x1="35" y1="287.02" x2="36.3" y2="287.02" class="tk"/>
<text x="34.2" y="288.82" class="lb">CO2</text>
<line x1="35" y1="291.6" x2="36.3" y2="291.6" class="tk"/>
<text x="34.2" y="293.4" class="lb">EVI</text>
<line x1="35" y1="296.18" x2="36.3" y2="296.18" class="tk"/>
<text x="34.2" y="297.98" class="lb">NETRAD</text>
<line x1="35" y1="300.77" x2="36.3" y2="300.77" class="tk"/>
<text x="34.2" y="302.57" class="lb">SWC2</text>
<line x1="35" y1="305.35" x2="36.3" y2="305.35" class="tk"/>
<text x="34.2" y="307.15" class="lb">TA_F</text>
<line x1="35" y1="309.93" x2="36.3" y2="309.93" class="tk"/>
<text x="34.2" y="311.73" class="lb">Number_hour</text>
<line x1="47.5" y1="313.8" x2="47.5" y2="315.1" class="tk"/>
<text x="47.5" y="319.6" class="tl">0.0</text>
<line x1="74" y1="313.8" x2="74" y2="315.1" class="tk"/>
<text x="74" y="319.6" class="tl">0.1</text>
<line x1="100.5" y1="313.8" x2="100.5" y2="315.1" class="tk"/>
<text x="100.5" y="319.6" class="tl">0.2</text>
<line x1="127" y1="313.8" x2="127" y2="315.1" class="tk"/>
<text x="127" y="319.6" class="tl">0.3</text>
<line x1="153.5" y1="313.8" x2="153.5" y2="315.1" class="tk"/>
<text x="153.5" y="319.6" class="tl">0.4</text>
<text x="97.7" y="327" class="cp">(g) CSH+OSH+Cf+Cs</text>
</g>
<g>
<line x1="206.6" y1="227.47" x2="267" y2="227.47" class="s"/>
<line x1="206.6" y1="232.32" x2="245.1" y2="232.32" class="s"/>
<line x1="206.6" y1="237.17" x2="223.9" y2="237.17" class="s"/>
<line x1="206.6" y1="242.02" x2="220" y2="242.02" class="s"/>
<line x1="206.6" y1="246.87" x2="218.3" y2="246.87" class="s"/>
<line x1="206.6" y1="251.72" x2="217.3" y2="251.72" class="s"/>
<line x1="206.6" y1="256.57" x2="217" y2="256.57" class="s"/>
<line x1="206.6" y1="261.42" x2="216.3" y2="261.42" class="s"/>
<line x1="206.6" y1="266.27" x2="216" y2="266.27" class="s"/>
<line x1="206.6" y1="271.13" x2="215.6" y2="271.13" class="s"/>
<line x1="206.6" y1="275.98" x2="215.3" y2="275.98" class="s"/>
<line x1="206.6" y1="280.83" x2="215" y2="280.83" class="s"/>
<line x1="206.6" y1="285.68" x2="214.7" y2="285.68" class="s"/>
<line x1="206.6" y1="290.53" x2="214.7" y2="290.53" class="s"/>
<line x1="206.6" y1="295.38" x2="214" y2="295.38" class="s"/>
<line x1="206.6" y1="300.23" x2="213.7" y2="300.23" class="s"/>
<line x1="206.6" y1="305.08" x2="213.3" y2="305.08" class="s"/>
<line x1="206.6" y1="309.93" x2="212.7" y2="309.93" class="s"/>
<circle cx="267" cy="227.47" r="1.85" class="d"/>
<circle cx="245.1" cy="232.32" r="1.85" class="d"/>
<circle cx="223.9" cy="237.17" r="1.85" class="d"/>
<circle cx="220" cy="242.02" r="1.85" class="d"/>
<circle cx="218.3" cy="246.87" r="1.85" class="d"/>
<circle cx="217.3" cy="251.72" r="1.85" class="d"/>
<circle cx="217" cy="256.57" r="1.85" class="d"/>
<circle cx="216.3" cy="261.42" r="1.85" class="d"/>
<circle cx="216" cy="266.27" r="1.85" class="d"/>
<circle cx="215.6" cy="271.13" r="1.85" class="d"/>
<circle cx="215.3" cy="275.98" r="1.85" class="d"/>
<circle cx="215" cy="280.83" r="1.85" class="d"/>
<circle cx="214.7" cy="285.68" r="1.85" class="d"/>
<circle cx="214.7" cy="290.53" r="1.85" class="d"/>
<circle cx="214" cy="295.38" r="1.85" class="d"/>
<circle cx="213.7" cy="300.23" r="1.85" class="d"/>
<circle cx="213.3" cy="305.08" r="1.85" class="d"/>
<circle cx="212.7" cy="309.93" r="1.85" class="d"/>
<rect x="195.5" y="223.35" width="122.8" height="90.45" class="fr"/>
<line x1="194.2" y1="227.47" x2="195.5" y2="227.47" class="tk"/>
<text x="193.4" y="229.27" class="lb">Latitude</text>
<line x1="194.2" y1="232.32" x2="195.5" y2="232.32" class="tk"/>
<text x="193.4" y="234.12" class="lb">Longitude</text>
<line x1="194.2" y1="237.17" x2="195.5" y2="237.17" class="tk"/>
<text x="193.4" y="238.97" class="lb">USTAR</text>
<line x1="194.2" y1="242.02" x2="195.5" y2="242.02" class="tk"/>
<text x="193.4" y="243.82" class="lb">NDVI</text>
<line x1="194.2" y1="246.87" x2="195.5" y2="246.87" class="tk"/>
<text x="193.4" y="248.67" class="lb">EVI</text>
<line x1="194.2" y1="251.72" x2="195.5" y2="251.72" class="tk"/>
<text x="193.4" y="253.52" class="lb">RECO_NT</text>
<line x1="194.2" y1="256.57" x2="195.5" y2="256.57" class="tk"/>
<text x="193.4" y="258.37" class="lb">H_F</text>
<line x1="194.2" y1="261.42" x2="195.5" y2="261.42" class="tk"/>
<text x="193.4" y="263.22" class="lb">SWC1</text>
<line x1="194.2" y1="266.27" x2="195.5" y2="266.27" class="tk"/>
<text x="193.4" y="268.07" class="lb">VPD_F</text>
<line x1="194.2" y1="271.13" x2="195.5" y2="271.13" class="tk"/>
<text x="193.4" y="272.93" class="lb">LAI</text>
<line x1="194.2" y1="275.98" x2="195.5" y2="275.98" class="tk"/>
<text x="193.4" y="277.78" class="lb">SWC4</text>
<line x1="194.2" y1="280.83" x2="195.5" y2="280.83" class="tk"/>
<text x="193.4" y="282.63" class="lb">SWC2</text>
<line x1="194.2" y1="285.68" x2="195.5" y2="285.68" class="tk"/>
<text x="193.4" y="287.48" class="lb">SWC3</text>
<line x1="194.2" y1="290.53" x2="195.5" y2="290.53" class="tk"/>
<text x="193.4" y="292.33" class="lb">Doy</text>
<line x1="194.2" y1="295.38" x2="195.5" y2="295.38" class="tk"/>
<text x="193.4" y="297.18" class="lb">TA_F</text>
<line x1="194.2" y1="300.23" x2="195.5" y2="300.23" class="tk"/>
<text x="193.4" y="302.03" class="lb">WS_F</text>
<line x1="194.2" y1="305.08" x2="195.5" y2="305.08" class="tk"/>
<text x="193.4" y="306.88" class="lb">CO2_F</text>
<line x1="194.2" y1="309.93" x2="195.5" y2="309.93" class="tk"/>
<text x="193.4" y="311.73" class="lb">Number_hour</text>
<line x1="206.6" y1="313.8" x2="206.6" y2="315.1" class="tk"/>
<text x="206.6" y="319.6" class="tl">0.0</text>
<line x1="233.15" y1="313.8" x2="233.15" y2="315.1" class="tk"/>
<text x="233.15" y="319.6" class="tl">0.1</text>
<line x1="259.7" y1="313.8" x2="259.7" y2="315.1" class="tk"/>
<text x="259.7" y="319.6" class="tl">0.2</text>
<line x1="286.25" y1="313.8" x2="286.25" y2="315.1" class="tk"/>
<text x="286.25" y="319.6" class="tl">0.3</text>
<line x1="312.8" y1="313.8" x2="312.8" y2="315.1" class="tk"/>
<text x="312.8" y="319.6" class="tl">0.4</text>
<text x="256.9" y="327" class="cp">(h) WSA+Cs</text>
</g>
<g>
<line x1="365.6" y1="227.47" x2="427.6" y2="227.47" class="s"/>
<line x1="365.6" y1="232.63" x2="422.9" y2="232.63" class="s"/>
<line x1="365.6" y1="237.78" x2="383.4" y2="237.78" class="s"/>
<line x1="365.6" y1="242.93" x2="378.3" y2="242.93" class="s"/>
<line x1="365.6" y1="248.09" x2="377.7" y2="248.09" class="s"/>
<line x1="365.6" y1="253.24" x2="376" y2="253.24" class="s"/>
<line x1="365.6" y1="258.39" x2="375.3" y2="258.39" class="s"/>
<line x1="365.6" y1="263.55" x2="375" y2="263.55" class="s"/>
<line x1="365.6" y1="268.7" x2="374.6" y2="268.7" class="s"/>
<line x1="365.6" y1="273.85" x2="374.3" y2="273.85" class="s"/>
<line x1="365.6" y1="279.01" x2="374" y2="279.01" class="s"/>
<line x1="365.6" y1="284.16" x2="373.6" y2="284.16" class="s"/>
<line x1="365.6" y1="289.31" x2="373.6" y2="289.31" class="s"/>
<line x1="365.6" y1="294.47" x2="373.3" y2="294.47" class="s"/>
<line x1="365.6" y1="299.62" x2="373.3" y2="299.62" class="s"/>
<line x1="365.6" y1="304.77" x2="372.9" y2="304.77" class="s"/>
<line x1="365.6" y1="309.93" x2="370.3" y2="309.93" class="s"/>
<circle cx="427.6" cy="227.47" r="1.85" class="d"/>
<circle cx="422.9" cy="232.63" r="1.85" class="d"/>
<circle cx="383.4" cy="237.78" r="1.85" class="d"/>
<circle cx="378.3" cy="242.93" r="1.85" class="d"/>
<circle cx="377.7" cy="248.09" r="1.85" class="d"/>
<circle cx="376" cy="253.24" r="1.85" class="d"/>
<circle cx="375.3" cy="258.39" r="1.85" class="d"/>
<circle cx="375" cy="263.55" r="1.85" class="d"/>
<circle cx="374.6" cy="268.7" r="1.85" class="d"/>
<circle cx="374.3" cy="273.85" r="1.85" class="d"/>
<circle cx="374" cy="279.01" r="1.85" class="d"/>
<circle cx="373.6" cy="284.16" r="1.85" class="d"/>
<circle cx="373.6" cy="289.31" r="1.85" class="d"/>
<circle cx="373.3" cy="294.47" r="1.85" class="d"/>
<circle cx="373.3" cy="299.62" r="1.85" class="d"/>
<circle cx="372.9" cy="304.77" r="1.85" class="d"/>
<circle cx="370.3" cy="309.93" r="1.85" class="d"/>
<rect x="354.7" y="223.35" width="122.8" height="90.45" class="fr"/>
<line x1="353.4" y1="227.47" x2="354.7" y2="227.47" class="tk"/>
<text x="352.6" y="229.27" class="lb">Longitude</text>
<line x1="353.4" y1="232.63" x2="354.7" y2="232.63" class="tk"/>
<text x="352.6" y="234.43" class="lb">Latitude</text>
<line x1="353.4" y1="237.78" x2="354.7" y2="237.78" class="tk"/>
<text x="352.6" y="239.58" class="lb">H_F</text>
<line x1="353.4" y1="242.93" x2="354.7" y2="242.93" class="tk"/>
<text x="352.6" y="244.73" class="lb">USTAR</text>
<line x1="353.4" y1="248.09" x2="354.7" y2="248.09" class="tk"/>
<text x="352.6" y="249.89" class="lb">RECO_NT</text>
<line x1="353.4" y1="253.24" x2="354.7" y2="253.24" class="tk"/>
<text x="352.6" y="255.04" class="lb">SWC4</text>
<line x1="353.4" y1="258.39" x2="354.7" y2="258.39" class="tk"/>
<text x="352.6" y="260.19" class="lb">NDVI</text>
<line x1="353.4" y1="263.55" x2="354.7" y2="263.55" class="tk"/>
<text x="352.6" y="265.35" class="lb">LAI</text>
<line x1="353.4" y1="268.7" x2="354.7" y2="268.7" class="tk"/>
<text x="352.6" y="270.5" class="lb">VPD_F</text>
<line x1="353.4" y1="273.85" x2="354.7" y2="273.85" class="tk"/>
<text x="352.6" y="275.65" class="lb">SWC3</text>
<line x1="353.4" y1="279.01" x2="354.7" y2="279.01" class="tk"/>
<text x="352.6" y="280.81" class="lb">SWC1</text>
<line x1="353.4" y1="284.16" x2="354.7" y2="284.16" class="tk"/>
<text x="352.6" y="285.96" class="lb">NETRAD</text>
<line x1="353.4" y1="289.31" x2="354.7" y2="289.31" class="tk"/>
<text x="352.6" y="291.11" class="lb">SWC2</text>
<line x1="353.4" y1="294.47" x2="354.7" y2="294.47" class="tk"/>
<text x="352.6" y="296.27" class="lb">Doy</text>
<line x1="353.4" y1="299.62" x2="354.7" y2="299.62" class="tk"/>
<text x="352.6" y="301.42" class="lb">CO2_F</text>
<line x1="353.4" y1="304.77" x2="354.7" y2="304.77" class="tk"/>
<text x="352.6" y="306.57" class="lb">TA_F</text>
<line x1="353.4" y1="309.93" x2="354.7" y2="309.93" class="tk"/>
<text x="352.6" y="311.73" class="lb">Number_hour</text>
<line x1="365.6" y1="313.8" x2="365.6" y2="315.1" class="tk"/>
<text x="365.6" y="319.6" class="tl">0.0</text>
<line x1="392.1" y1="313.8" x2="392.1" y2="315.1" class="tk"/>
<text x="392.1" y="319.6" class="tl">0.1</text>
<line x1="418.6" y1="313.8" x2="418.6" y2="315.1" class="tk"/>
<text x="418.6" y="319.6" class="tl">0.2</text>
<line x1="445.1" y1="313.8" x2="445.1" y2="315.1" class="tk"/>
<text x="445.1" y="319.6" class="tl">0.3</text>
<line x1="471.6" y1="313.8" x2="471.6" y2="315.1" class="tk"/>
<text x="471.6" y="319.6" class="tl">0.4</text>
<text x="416.1" y="327" class="cp">(i) GRA+Cf</text>
</g>
<g>
<line x1="45.4" y1="336.22" x2="139.4" y2="336.22" class="s"/>
<line x1="45.4" y1="341.72" x2="105.7" y2="341.72" class="s"/>
<line x1="45.4" y1="347.22" x2="52.4" y2="347.22" class="s"/>
<line x1="45.4" y1="352.71" x2="51.1" y2="352.71" class="s"/>
<line x1="45.4" y1="358.21" x2="50.4" y2="358.21" class="s"/>
<line x1="45.4" y1="363.71" x2="50.1" y2="363.71" class="s"/>
<line x1="45.4" y1="369.2" x2="49.8" y2="369.2" class="s"/>
<line x1="45.4" y1="374.7" x2="49.8" y2="374.7" class="s"/>
<line x1="45.4" y1="380.2" x2="49.4" y2="380.2" class="s"/>
<line x1="45.4" y1="385.7" x2="49.4" y2="385.7" class="s"/>
<line x1="45.4" y1="391.19" x2="49.4" y2="391.19" class="s"/>
<line x1="45.4" y1="396.69" x2="49.4" y2="396.69" class="s"/>
<line x1="45.4" y1="402.19" x2="49.1" y2="402.19" class="s"/>
<line x1="45.4" y1="407.68" x2="49.1" y2="407.68" class="s"/>
<line x1="45.4" y1="413.18" x2="48.8" y2="413.18" class="s"/>
<line x1="45.4" y1="418.68" x2="47.8" y2="418.68" class="s"/>
<circle cx="139.4" cy="336.22" r="1.85" class="d"/>
<circle cx="105.7" cy="341.72" r="1.85" class="d"/>
<circle cx="52.4" cy="347.22" r="1.85" class="d"/>
<circle cx="51.1" cy="352.71" r="1.85" class="d"/>
<circle cx="50.4" cy="358.21" r="1.85" class="d"/>
<circle cx="50.1" cy="363.71" r="1.85" class="d"/>
<circle cx="49.8" cy="369.2" r="1.85" class="d"/>
<circle cx="49.8" cy="374.7" r="1.85" class="d"/>
<circle cx="49.4" cy="380.2" r="1.85" class="d"/>
<circle cx="49.4" cy="385.7" r="1.85" class="d"/>
<circle cx="49.4" cy="391.19" r="1.85" class="d"/>
<circle cx="49.4" cy="396.69" r="1.85" class="d"/>
<circle cx="49.1" cy="402.19" r="1.85" class="d"/>
<circle cx="49.1" cy="407.68" r="1.85" class="d"/>
<circle cx="48.8" cy="413.18" r="1.85" class="d"/>
<circle cx="47.8" cy="418.68" r="1.85" class="d"/>
<rect x="36.3" y="332.1" width="122.8" height="90.45" class="fr"/>
<line x1="35" y1="336.22" x2="36.3" y2="336.22" class="tk"/>
<text x="34.2" y="338.02" class="lb">Longitude</text>
<line x1="35" y1="341.72" x2="36.3" y2="341.72" class="tk"/>
<text x="34.2" y="343.52" class="lb">Latitude</text>
<line x1="35" y1="347.22" x2="36.3" y2="347.22" class="tk"/>
<text x="34.2" y="349.02" class="lb">USTAR</text>
<line x1="35" y1="352.71" x2="36.3" y2="352.71" class="tk"/>
<text x="34.2" y="354.51" class="lb">H_F</text>
<line x1="35" y1="358.21" x2="36.3" y2="358.21" class="tk"/>
<text x="34.2" y="360.01" class="lb">VPD_F</text>
<line x1="35" y1="363.71" x2="36.3" y2="363.71" class="tk"/>
<text x="34.2" y="365.51" class="lb">SWC4</text>
<line x1="35" y1="369.2" x2="36.3" y2="369.2" class="tk"/>
<text x="34.2" y="371" class="lb">SWC1</text>
<line x1="35" y1="374.7" x2="36.3" y2="374.7" class="tk"/>
<text x="34.2" y="376.5" class="lb">RECO_NT</text>
<line x1="35" y1="380.2" x2="36.3" y2="380.2" class="tk"/>
<text x="34.2" y="382" class="lb">Doy</text>
<line x1="35" y1="385.7" x2="36.3" y2="385.7" class="tk"/>
<text x="34.2" y="387.5" class="lb">SWC2</text>
<line x1="35" y1="391.19" x2="36.3" y2="391.19" class="tk"/>
<text x="34.2" y="392.99" class="lb">NDVI</text>
<line x1="35" y1="396.69" x2="36.3" y2="396.69" class="tk"/>
<text x="34.2" y="398.49" class="lb">SWC3</text>
<line x1="35" y1="402.19" x2="36.3" y2="402.19" class="tk"/>
<text x="34.2" y="403.99" class="lb">EVI</text>
<line x1="35" y1="407.68" x2="36.3" y2="407.68" class="tk"/>
<text x="34.2" y="409.48" class="lb">LAI</text>
<line x1="35" y1="413.18" x2="36.3" y2="413.18" class="tk"/>
<text x="34.2" y="414.98" class="lb">TA_F</text>
<line x1="35" y1="418.68" x2="36.3" y2="418.68" class="tk"/>
<text x="34.2" y="420.48" class="lb">Number_hour</text>
<line x1="45.4" y1="422.55" x2="45.4" y2="423.85" class="tk"/>
<text x="45.4" y="428.35" class="tl">0.0</text>
<line x1="67.2" y1="422.55" x2="67.2" y2="423.85" class="tk"/>
<text x="67.2" y="428.35" class="tl">0.1</text>
<line x1="89" y1="422.55" x2="89" y2="423.85" class="tk"/>
<text x="89" y="428.35" class="tl">0.2</text>
<line x1="110.8" y1="422.55" x2="110.8" y2="423.85" class="tk"/>
<text x="110.8" y="428.35" class="tl">0.3</text>
<line x1="132.6" y1="422.55" x2="132.6" y2="423.85" class="tk"/>
<text x="132.6" y="428.35" class="tl">0.4</text>
<line x1="154.4" y1="422.55" x2="154.4" y2="423.85" class="tk"/>
<text x="154.4" y="428.35" class="tl">0.5</text>
<text x="97.7" y="435.75" class="cp">(j) CRO+Cf</text>
</g>
<g>
<line x1="203.5" y1="336.22" x2="299.8" y2="336.22" class="s"/>
<line x1="203.5" y1="341.72" x2="255.4" y2="341.72" class="s"/>
<line x1="203.5" y1="347.22" x2="214" y2="347.22" class="s"/>
<line x1="203.5" y1="352.71" x2="209.4" y2="352.71" class="s"/>
<line x1="203.5" y1="358.21" x2="208.4" y2="358.21" class="s"/>
<line x1="203.5" y1="363.71" x2="208.1" y2="363.71" class="s"/>
<line x1="203.5" y1="369.2" x2="207.4" y2="369.2" class="s"/>
<line x1="203.5" y1="374.7" x2="207" y2="374.7" class="s"/>
<line x1="203.5" y1="380.2" x2="206.7" y2="380.2" class="s"/>
<line x1="203.5" y1="385.7" x2="206.4" y2="385.7" class="s"/>
<line x1="203.5" y1="391.19" x2="206.4" y2="391.19" class="s"/>
<line x1="203.5" y1="396.69" x2="206" y2="396.69" class="s"/>
<line x1="203.5" y1="402.19" x2="206" y2="402.19" class="s"/>
<line x1="203.5" y1="407.68" x2="205.7" y2="407.68" class="s"/>
<line x1="203.5" y1="413.18" x2="205.4" y2="413.18" class="s"/>
<line x1="203.5" y1="418.68" x2="205" y2="418.68" class="s"/>
<circle cx="299.8" cy="336.22" r="1.85" class="d"/>
<circle cx="255.4" cy="341.72" r="1.85" class="d"/>
<circle cx="214" cy="347.22" r="1.85" class="d"/>
<circle cx="209.4" cy="352.71" r="1.85" class="d"/>
<circle cx="208.4" cy="358.21" r="1.85" class="d"/>
<circle cx="208.1" cy="363.71" r="1.85" class="d"/>
<circle cx="207.4" cy="369.2" r="1.85" class="d"/>
<circle cx="207" cy="374.7" r="1.85" class="d"/>
<circle cx="206.7" cy="380.2" r="1.85" class="d"/>
<circle cx="206.4" cy="385.7" r="1.85" class="d"/>
<circle cx="206.4" cy="391.19" r="1.85" class="d"/>
<circle cx="206" cy="396.69" r="1.85" class="d"/>
<circle cx="206" cy="402.19" r="1.85" class="d"/>
<circle cx="205.7" cy="407.68" r="1.85" class="d"/>
<circle cx="205.4" cy="413.18" r="1.85" class="d"/>
<circle cx="205" cy="418.68" r="1.85" class="d"/>
<rect x="195.5" y="332.1" width="122.8" height="90.45" class="fr"/>
<line x1="194.2" y1="336.22" x2="195.5" y2="336.22" class="tk"/>
<text x="193.4" y="338.02" class="lb">Longitude</text>
<line x1="194.2" y1="341.72" x2="195.5" y2="341.72" class="tk"/>
<text x="193.4" y="343.52" class="lb">Longitude</text>
<line x1="194.2" y1="347.22" x2="195.5" y2="347.22" class="tk"/>
<text x="193.4" y="349.02" class="lb">Doy</text>
<line x1="194.2" y1="352.71" x2="195.5" y2="352.71" class="tk"/>
<text x="193.4" y="354.51" class="lb">H_F</text>
<line x1="194.2" y1="358.21" x2="195.5" y2="358.21" class="tk"/>
<text x="193.4" y="360.01" class="lb">USTAR</text>
<line x1="194.2" y1="363.71" x2="195.5" y2="363.71" class="tk"/>
<text x="193.4" y="365.51" class="lb">SWC2</text>
<line x1="194.2" y1="369.2" x2="195.5" y2="369.2" class="tk"/>
<text x="193.4" y="371" class="lb">SWC4</text>
<line x1="194.2" y1="374.7" x2="195.5" y2="374.7" class="tk"/>
<text x="193.4" y="376.5" class="lb">VPD_F</text>
<line x1="194.2" y1="380.2" x2="195.5" y2="380.2" class="tk"/>
<text x="193.4" y="382" class="lb">SWC3</text>
<line x1="194.2" y1="385.7" x2="195.5" y2="385.7" class="tk"/>
<text x="193.4" y="387.5" class="lb">SWC1</text>
<line x1="194.2" y1="391.19" x2="195.5" y2="391.19" class="tk"/>
<text x="193.4" y="392.99" class="lb">TA_F</text>
<line x1="194.2" y1="396.69" x2="195.5" y2="396.69" class="tk"/>
<text x="193.4" y="398.49" class="lb">EVI</text>
<line x1="194.2" y1="402.19" x2="195.5" y2="402.19" class="tk"/>
<text x="193.4" y="403.99" class="lb">NDVI</text>
<line x1="194.2" y1="407.68" x2="195.5" y2="407.68" class="tk"/>
<text x="193.4" y="409.48" class="lb">RECO_NT</text>
<line x1="194.2" y1="413.18" x2="195.5" y2="413.18" class="tk"/>
<text x="193.4" y="414.98" class="lb">LAI</text>
<line x1="194.2" y1="418.68" x2="195.5" y2="418.68" class="tk"/>
<text x="193.4" y="420.48" class="lb">Number_hour</text>
<line x1="203.5" y1="422.55" x2="203.5" y2="423.85" class="tk"/>
<text x="203.5" y="428.35" class="tl">0.0</text>
<line x1="223.74" y1="422.55" x2="223.74" y2="423.85" class="tk"/>
<text x="223.74" y="428.35" class="tl">0.1</text>
<line x1="243.98" y1="422.55" x2="243.98" y2="423.85" class="tk"/>
<text x="243.98" y="428.35" class="tl">0.2</text>
<line x1="264.22" y1="422.55" x2="264.22" y2="423.85" class="tk"/>
<text x="264.22" y="428.35" class="tl">0.3</text>
<line x1="284.46" y1="422.55" x2="284.46" y2="423.85" class="tk"/>
<text x="284.46" y="428.35" class="tl">0.4</text>
<line x1="304.7" y1="422.55" x2="304.7" y2="423.85" class="tk"/>
<text x="304.7" y="428.35" class="tl">0.5</text>
<text x="256.9" y="435.75" class="cp">(k) CRO+Cs</text>
</g>
<g>
<line x1="365.6" y1="336.22" x2="404.7" y2="336.22" class="s"/>
<line x1="365.6" y1="340.35" x2="397.3" y2="340.35" class="s"/>
<line x1="365.6" y1="344.47" x2="394.9" y2="344.47" class="s"/>
<line x1="365.6" y1="348.59" x2="381.4" y2="348.59" class="s"/>
<line x1="365.6" y1="352.71" x2="378.4" y2="352.71" class="s"/>
<line x1="365.6" y1="356.84" x2="378.4" y2="356.84" class="s"/>
<line x1="365.6" y1="360.96" x2="376.9" y2="360.96" class="s"/>
<line x1="365.6" y1="365.08" x2="376.5" y2="365.08" class="s"/>
<line x1="365.6" y1="369.2" x2="376.1" y2="369.2" class="s"/>
<line x1="365.6" y1="373.33" x2="375.5" y2="373.33" class="s"/>
<line x1="365.6" y1="377.45" x2="375.1" y2="377.45" class="s"/>
<line x1="365.6" y1="381.57" x2="375.2" y2="381.57" class="s"/>
<line x1="365.6" y1="385.7" x2="373.7" y2="385.7" class="s"/>
<line x1="365.6" y1="389.82" x2="372.9" y2="389.82" class="s"/>
<line x1="365.6" y1="393.94" x2="372.8" y2="393.94" class="s"/>
<line x1="365.6" y1="398.06" x2="372.2" y2="398.06" class="s"/>
<line x1="365.6" y1="402.19" x2="372.2" y2="402.19" class="s"/>
<line x1="365.6" y1="406.31" x2="372.2" y2="406.31" class="s"/>
<line x1="365.6" y1="410.43" x2="371.3" y2="410.43" class="s"/>
<line x1="365.6" y1="414.55" x2="369.7" y2="414.55" class="s"/>
<line x1="365.6" y1="418.68" x2="368.4" y2="418.68" class="s"/>
<circle cx="404.7" cy="336.22" r="1.85" class="d"/>
<circle cx="397.3" cy="340.35" r="1.85" class="d"/>
<circle cx="394.9" cy="344.47" r="1.85" class="d"/>
<circle cx="381.4" cy="348.59" r="1.85" class="d"/>
<circle cx="378.4" cy="352.71" r="1.85" class="d"/>
<circle cx="378.4" cy="356.84" r="1.85" class="d"/>
<circle cx="376.9" cy="360.96" r="1.85" class="d"/>
<circle cx="376.5" cy="365.08" r="1.85" class="d"/>
<circle cx="376.1" cy="369.2" r="1.85" class="d"/>
<circle cx="375.5" cy="373.33" r="1.85" class="d"/>
<circle cx="375.1" cy="377.45" r="1.85" class="d"/>
<circle cx="375.2" cy="381.57" r="1.85" class="d"/>
<circle cx="373.7" cy="385.7" r="1.85" class="d"/>
<circle cx="372.9" cy="389.82" r="1.85" class="d"/>
<circle cx="372.8" cy="393.94" r="1.85" class="d"/>
<circle cx="372.2" cy="398.06" r="1.85" class="d"/>
<circle cx="372.2" cy="402.19" r="1.85" class="d"/>
<circle cx="372.2" cy="406.31" r="1.85" class="d"/>
<circle cx="371.3" cy="410.43" r="1.85" class="d"/>
<circle cx="369.7" cy="414.55" r="1.85" class="d"/>
<circle cx="368.4" cy="418.68" r="1.85" class="d"/>
<rect x="354.7" y="332.1" width="122.8" height="90.45" class="fr"/>
<line x1="353.4" y1="336.22" x2="354.7" y2="336.22" class="tk"/>
<text x="352.6" y="338.02" class="lb">Latitude</text>
<line x1="353.4" y1="340.35" x2="354.7" y2="340.35" class="tk"/>
<text x="352.6" y="342.15" class="lb">Longitude</text>
<line x1="353.4" y1="344.47" x2="354.7" y2="344.47" class="tk"/>
<text x="352.6" y="346.27" class="lb">VPD_F</text>
<line x1="353.4" y1="348.59" x2="354.7" y2="348.59" class="tk"/>
<text x="352.6" y="350.39" class="lb">SWC4</text>
<line x1="353.4" y1="352.71" x2="354.7" y2="352.71" class="tk"/>
<text x="352.6" y="354.51" class="lb">TS_F</text>
<line x1="353.4" y1="356.84" x2="354.7" y2="356.84" class="tk"/>
<text x="352.6" y="358.64" class="lb">USTAR</text>
<line x1="353.4" y1="360.96" x2="354.7" y2="360.96" class="tk"/>
<text x="352.6" y="362.76" class="lb">H_F</text>
<line x1="353.4" y1="365.08" x2="354.7" y2="365.08" class="tk"/>
<text x="352.6" y="366.88" class="lb">EVI</text>
<line x1="353.4" y1="369.2" x2="354.7" y2="369.2" class="tk"/>
<text x="352.6" y="371" class="lb">Doy</text>
<line x1="353.4" y1="373.33" x2="354.7" y2="373.33" class="tk"/>
<text x="352.6" y="375.13" class="lb">CO2_F</text>
<line x1="353.4" y1="377.45" x2="354.7" y2="377.45" class="tk"/>
<text x="352.6" y="379.25" class="lb">NDVI</text>
<line x1="353.4" y1="381.57" x2="354.7" y2="381.57" class="tk"/>
<text x="352.6" y="383.37" class="lb">WS_F</text>
<line x1="353.4" y1="385.7" x2="354.7" y2="385.7" class="tk"/>
<text x="352.6" y="387.5" class="lb">SWC3</text>
<line x1="353.4" y1="389.82" x2="354.7" y2="389.82" class="tk"/>
<text x="352.6" y="391.62" class="lb">LAI</text>
<line x1="353.4" y1="393.94" x2="354.7" y2="393.94" class="tk"/>
<text x="352.6" y="395.74" class="lb">RECO_NT</text>
<line x1="353.4" y1="398.06" x2="354.7" y2="398.06" class="tk"/>
<text x="352.6" y="399.86" class="lb">NETRAD</text>
<line x1="353.4" y1="402.19" x2="354.7" y2="402.19" class="tk"/>
<text x="352.6" y="403.99" class="lb">TA_F</text>
<line x1="353.4" y1="406.31" x2="354.7" y2="406.31" class="tk"/>
<text x="352.6" y="408.11" class="lb">SWC2</text>
<line x1="353.4" y1="410.43" x2="354.7" y2="410.43" class="tk"/>
<text x="352.6" y="412.23" class="lb">SWC1</text>
<line x1="353.4" y1="414.55" x2="354.7" y2="414.55" class="tk"/>
<text x="352.6" y="416.35" class="lb">SW_IN_F</text>
<line x1="353.4" y1="418.68" x2="354.7" y2="418.68" class="tk"/>
<text x="352.6" y="420.48" class="lb">Number_hour</text>
<line x1="365.6" y1="422.55" x2="365.6" y2="423.85" class="tk"/>
<text x="365.6" y="428.35" class="tl">0.0</text>
<line x1="392.1" y1="422.55" x2="392.1" y2="423.85" class="tk"/>
<text x="392.1" y="428.35" class="tl">0.1</text>
<line x1="418.6" y1="422.55" x2="418.6" y2="423.85" class="tk"/>
<text x="418.6" y="428.35" class="tl">0.2</text>
<line x1="445.1" y1="422.55" x2="445.1" y2="423.85" class="tk"/>
<text x="445.1" y="428.35" class="tl">0.3</text>
<line x1="471.6" y1="422.55" x2="471.6" y2="423.85" class="tk"/>
<text x="471.6" y="428.35" class="tl">0.4</text>
<text x="416.1" y="435.75" class="cp">(l) WET+Cf</text>
</g>
<g>
<line x1="47.4" y1="444.97" x2="112" y2="444.97" class="s"/>
<line x1="47.4" y1="450.47" x2="98.5" y2="450.47" class="s"/>
<line x1="47.4" y1="455.97" x2="87.4" y2="455.97" class="s"/>
<line x1="47.4" y1="461.46" x2="68.2" y2="461.46" class="s"/>
<line x1="47.4" y1="466.96" x2="67.9" y2="466.96" class="s"/>
<line x1="47.4" y1="472.46" x2="61.9" y2="472.46" class="s"/>
<line x1="47.4" y1="477.95" x2="57.6" y2="477.95" class="s"/>
<line x1="47.4" y1="483.45" x2="56" y2="483.45" class="s"/>
<line x1="47.4" y1="488.95" x2="54.3" y2="488.95" class="s"/>
<line x1="47.4" y1="494.45" x2="53" y2="494.45" class="s"/>
<line x1="47.4" y1="499.94" x2="52.3" y2="499.94" class="s"/>
<line x1="47.4" y1="505.44" x2="51.3" y2="505.44" class="s"/>
<line x1="47.4" y1="510.94" x2="51" y2="510.94" class="s"/>
<line x1="47.4" y1="516.43" x2="50.7" y2="516.43" class="s"/>
<line x1="47.4" y1="521.93" x2="47.4" y2="521.93" class="s"/>
<line x1="47.4" y1="527.43" x2="47.4" y2="527.43" class="s"/>
<circle cx="112" cy="444.97" r="1.85" class="d"/>
<circle cx="98.5" cy="450.47" r="1.85" class="d"/>
<circle cx="87.4" cy="455.97" r="1.85" class="d"/>
<circle cx="68.2" cy="461.46" r="1.85" class="d"/>
<circle cx="67.9" cy="466.96" r="1.85" class="d"/>
<circle cx="61.9" cy="472.46" r="1.85" class="d"/>
<circle cx="57.6" cy="477.95" r="1.85" class="d"/>
<circle cx="56" cy="483.45" r="1.85" class="d"/>
<circle cx="54.3" cy="488.95" r="1.85" class="d"/>
<circle cx="53" cy="494.45" r="1.85" class="d"/>
<circle cx="52.3" cy="499.94" r="1.85" class="d"/>
<circle cx="51.3" cy="505.44" r="1.85" class="d"/>
<circle cx="51" cy="510.94" r="1.85" class="d"/>
<circle cx="50.7" cy="516.43" r="1.85" class="d"/>
<circle cx="47.4" cy="521.93" r="1.85" class="d"/>
<circle cx="47.4" cy="527.43" r="1.85" class="d"/>
<rect x="36.3" y="440.85" width="122.8" height="90.45" class="fr"/>
<line x1="35" y1="444.97" x2="36.3" y2="444.97" class="tk"/>
<text x="34.2" y="446.77" class="lb">USTAR</text>
<line x1="35" y1="450.47" x2="36.3" y2="450.47" class="tk"/>
<text x="34.2" y="452.27" class="lb">Doy</text>
<line x1="35" y1="455.97" x2="36.3" y2="455.97" class="tk"/>
<text x="34.2" y="457.77" class="lb">VPD_F</text>
<line x1="35" y1="461.46" x2="36.3" y2="461.46" class="tk"/>
<text x="34.2" y="463.26" class="lb">LAI</text>
<line x1="35" y1="466.96" x2="36.3" y2="466.96" class="tk"/>
<text x="34.2" y="468.76" class="lb">SWC4</text>
<line x1="35" y1="472.46" x2="36.3" y2="472.46" class="tk"/>
<text x="34.2" y="474.26" class="lb">H_F</text>
<line x1="35" y1="477.95" x2="36.3" y2="477.95" class="tk"/>
<text x="34.2" y="479.75" class="lb">SWC3</text>
<line x1="35" y1="483.45" x2="36.3" y2="483.45" class="tk"/>
<text x="34.2" y="485.25" class="lb">NDVI</text>
<line x1="35" y1="488.95" x2="36.3" y2="488.95" class="tk"/>
<text x="34.2" y="490.75" class="lb">Number_hour</text>
<line x1="35" y1="494.45" x2="36.3" y2="494.45" class="tk"/>
<text x="34.2" y="496.25" class="lb">EVI</text>
<line x1="35" y1="499.94" x2="36.3" y2="499.94" class="tk"/>
<text x="34.2" y="501.74" class="lb">TA_F</text>
<line x1="35" y1="505.44" x2="36.3" y2="505.44" class="tk"/>
<text x="34.2" y="507.24" class="lb">SWC1</text>
<line x1="35" y1="510.94" x2="36.3" y2="510.94" class="tk"/>
<text x="34.2" y="512.74" class="lb">SWC2</text>
<line x1="35" y1="516.43" x2="36.3" y2="516.43" class="tk"/>
<text x="34.2" y="518.23" class="lb">RECO_NT</text>
<line x1="35" y1="521.93" x2="36.3" y2="521.93" class="tk"/>
<text x="34.2" y="523.73" class="lb">Latitude</text>
<line x1="35" y1="527.43" x2="36.3" y2="527.43" class="tk"/>
<text x="34.2" y="529.23" class="lb">Longitude</text>
<line x1="47.4" y1="531.3" x2="47.4" y2="532.6" class="tk"/>
<text x="47.4" y="537.1" class="tl">0.0</text>
<line x1="73.9" y1="531.3" x2="73.9" y2="532.6" class="tk"/>
<text x="73.9" y="537.1" class="tl">0.1</text>
<line x1="100.4" y1="531.3" x2="100.4" y2="532.6" class="tk"/>
<text x="100.4" y="537.1" class="tl">0.2</text>
<line x1="126.9" y1="531.3" x2="126.9" y2="532.6" class="tk"/>
<text x="126.9" y="537.1" class="tl">0.3</text>
<line x1="153.4" y1="531.3" x2="153.4" y2="532.6" class="tk"/>
<text x="153.4" y="537.1" class="tl">0.4</text>
<text x="97.7" y="544.5" class="cp">(m) WET+Cs</text>
</g>
</svg></div></div>
</body></html>
